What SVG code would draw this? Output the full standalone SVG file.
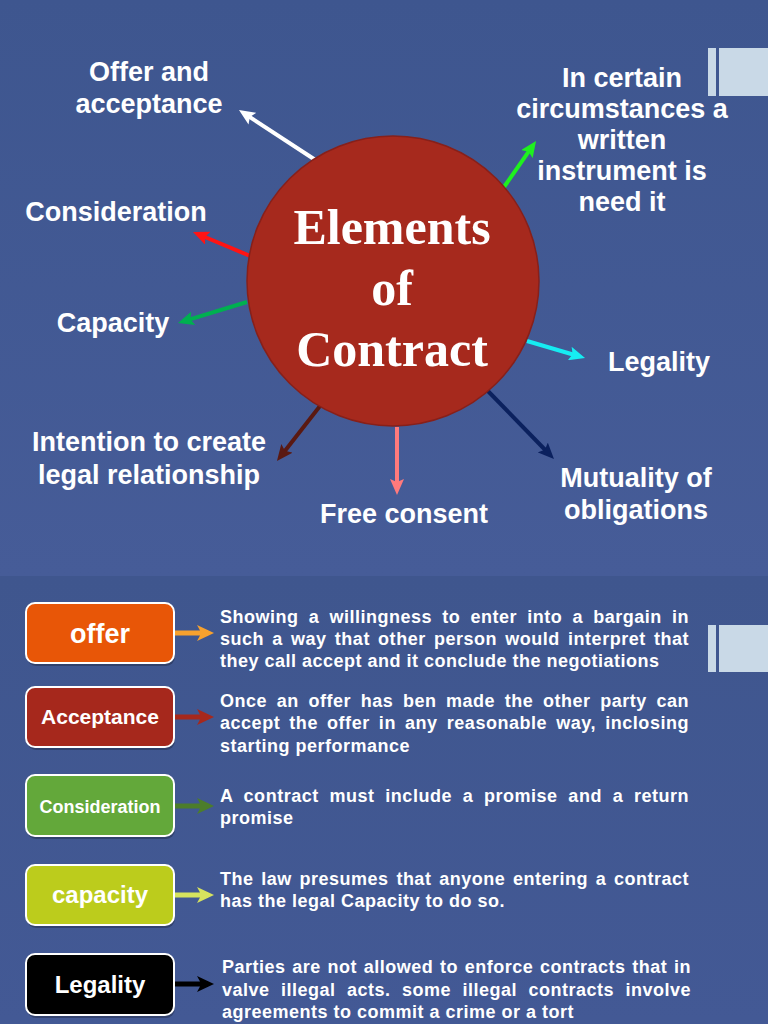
<svg xmlns="http://www.w3.org/2000/svg" width="768" height="1024" viewBox="0 0 768 1024">
<defs>
<linearGradient id="bg1" x1="0" y1="0" x2="0" y2="1"><stop offset="0" stop-color="#3e568f"/><stop offset="1" stop-color="#465c98"/></linearGradient>
<linearGradient id="bg2" x1="0" y1="0" x2="0" y2="1"><stop offset="0" stop-color="#3f568e"/><stop offset="1" stop-color="#435995"/></linearGradient>
<marker id="mWhite" viewBox="0 0 16 14" markerWidth="16" markerHeight="14" refX="7" refY="7" orient="auto" markerUnits="userSpaceOnUse"><path d="M0,0 L16,7 L0,14 L3,7 Z" fill="#ffffff"/></marker>
<marker id="mGreen" viewBox="0 0 16 14" markerWidth="16" markerHeight="14" refX="7" refY="7" orient="auto" markerUnits="userSpaceOnUse"><path d="M0,0 L16,7 L0,14 L3,7 Z" fill="#1ff01f"/></marker>
<marker id="mRed" viewBox="0 0 16 14" markerWidth="16" markerHeight="14" refX="7" refY="7" orient="auto" markerUnits="userSpaceOnUse"><path d="M0,0 L16,7 L0,14 L3,7 Z" fill="#ff1414"/></marker>
<marker id="mGreen2" viewBox="0 0 16 14" markerWidth="16" markerHeight="14" refX="7" refY="7" orient="auto" markerUnits="userSpaceOnUse"><path d="M0,0 L16,7 L0,14 L3,7 Z" fill="#00b050"/></marker>
<marker id="mCyan" viewBox="0 0 16 14" markerWidth="16" markerHeight="14" refX="7" refY="7" orient="auto" markerUnits="userSpaceOnUse"><path d="M0,0 L16,7 L0,14 L3,7 Z" fill="#16ecf2"/></marker>
<marker id="mBrown" viewBox="0 0 16 14" markerWidth="16" markerHeight="14" refX="7" refY="7" orient="auto" markerUnits="userSpaceOnUse"><path d="M0,0 L16,7 L0,14 L3,7 Z" fill="#5a1912"/></marker>
<marker id="mPink" viewBox="0 0 16 14" markerWidth="16" markerHeight="14" refX="7" refY="7" orient="auto" markerUnits="userSpaceOnUse"><path d="M0,0 L16,7 L0,14 L3,7 Z" fill="#ff7a7c"/></marker>
<marker id="mNavy" viewBox="0 0 16 14" markerWidth="16" markerHeight="14" refX="7" refY="7" orient="auto" markerUnits="userSpaceOnUse"><path d="M0,0 L16,7 L0,14 L3,7 Z" fill="#0b215e"/></marker>
<path id="blockArrow" d="M0,-2.5 L25,-2.5 L22,-8 L39,0 L22,8 L25,2.5 L0,2.5 Z"/>
</defs>
<style>
.lbl{font-family:"Liberation Sans",Arial,sans-serif;font-weight:bold;font-size:27px;fill:#ffffff;text-anchor:middle}
.title{font-family:"Liberation Serif","Times New Roman",serif;font-weight:bold;font-size:50px;fill:#ffffff;text-anchor:middle}
.con{stroke-width:4;fill:none}
.box{stroke:#ffffff;stroke-width:2}
.shadow{fill:#000000;opacity:0.25}
.blbl{font-family:"Liberation Sans",Arial,sans-serif;font-weight:bold;fill:#ffffff;text-anchor:middle}
.desc{font-family:"Liberation Sans",Arial,sans-serif;font-weight:bold;font-size:18px;fill:#ffffff;letter-spacing:0.5px}
.deco{fill:#c9d9e7}
</style>
<rect x="0" y="0" width="768" height="576" fill="url(#bg1)"/>
<rect x="0" y="576" width="768" height="448" fill="url(#bg2)"/>
<g id="decor">
<rect class="deco" x="708" y="48" width="8" height="48"/>
<rect class="deco" x="719" y="48" width="49" height="48"/>
<rect class="deco" x="708" y="625" width="8" height="47"/>
<rect class="deco" x="719" y="625" width="49" height="47"/>
</g>
<g id="connectors">
<line class="con" x1="320" y1="163" x2="246.5" y2="114.9" stroke="#ffffff" marker-end="url(#mWhite)"/>
<line class="con" x1="504" y1="187" x2="530.9" y2="148.4" stroke="#1ff01f" marker-end="url(#mGreen)"/>
<line class="con" x1="255" y1="258" x2="201.3" y2="235.5" stroke="#ff1414" marker-end="url(#mRed)"/>
<line class="con" x1="247" y1="302" x2="186.6" y2="320.4" stroke="#00b050" marker-end="url(#mGreen2)"/>
<line class="con" x1="527" y1="341" x2="576.4" y2="355.5" stroke="#16ecf2" marker-end="url(#mCyan)"/>
<line class="con" x1="320" y1="406" x2="282.5" y2="453.9" stroke="#5a1912" marker-end="url(#mBrown)"/>
<line class="con" x1="397" y1="427" x2="397" y2="486" stroke="#ff7a7c" marker-end="url(#mPink)"/>
<line class="con" x1="485" y1="388" x2="547.7" y2="452.5" stroke="#0b215e" marker-end="url(#mNavy)"/>
<use href="#blockArrow" x="175" y="633" fill="#f7a12e"/>
<use href="#blockArrow" x="175" y="717" fill="#a6281c"/>
<use href="#blockArrow" x="175" y="806" fill="#4c7d2b"/>
<use href="#blockArrow" x="175" y="895" fill="#d6e35e"/>
<use href="#blockArrow" x="175" y="984" fill="#000000"/>
</g>
<g id="center">
<ellipse cx="393" cy="281" rx="146" ry="145" fill="#a6291d" stroke="#87201a" stroke-width="1.5"/>
<text class="title" x="392" y="244">Elements</text>
<text class="title" x="392" y="305">of</text>
<text class="title" x="392" y="366">Contract</text>
</g>
<g id="n-offer-acceptance"><text class="lbl" x="149" y="81">Offer and</text><text class="lbl" x="149" y="113">acceptance</text></g>
<g id="n-written"><text class="lbl" x="622" y="87">In certain</text><text class="lbl" x="622" y="118">circumstances a</text><text class="lbl" x="622" y="149">written</text><text class="lbl" x="622" y="180">instrument is</text><text class="lbl" x="622" y="211">need it</text></g>
<g id="n-consideration"><text class="lbl" x="116" y="221">Consideration</text></g>
<g id="n-capacity"><text class="lbl" x="113" y="332">Capacity</text></g>
<g id="n-legality"><text class="lbl" x="659" y="371">Legality</text></g>
<g id="n-intention"><text class="lbl" x="149" y="451">Intention to create</text><text class="lbl" x="149" y="484">legal relationship</text></g>
<g id="n-free-consent"><text class="lbl" x="404" y="523">Free consent</text></g>
<g id="n-mutuality"><text class="lbl" x="636" y="487">Mutuality of</text><text class="lbl" x="636" y="519">obligations</text></g>
<g id="b-offer">
<rect class="shadow" x="27" y="606" width="148" height="60" rx="9"/>
<rect class="box" x="26" y="603" width="148" height="60" rx="9" fill="#e85607"/>
<text class="blbl" x="100" y="643" font-size="27">offer</text>
<text class="desc" x="220" y="623" word-spacing="4.7" textLength="469" lengthAdjust="spacing">Showing a willingness to enter into a bargain in</text>
<text class="desc" x="220" y="645" word-spacing="2.7" textLength="469" lengthAdjust="spacing">such a way that other person would interpret that</text>
<text class="desc" x="220" y="667">they call accept and it conclude the negotiations</text>
</g>
<g id="b-acceptance">
<rect class="shadow" x="27" y="690" width="148" height="60" rx="9"/>
<rect class="box" x="26" y="687" width="148" height="60" rx="9" fill="#a6281c"/>
<text class="blbl" x="100" y="724" font-size="21">Acceptance</text>
<text class="desc" x="220" y="707" word-spacing="4.2" textLength="469" lengthAdjust="spacing">Once an offer has ben made the other party can</text>
<text class="desc" x="220" y="729" word-spacing="3.6" textLength="469" lengthAdjust="spacing">accept the offer in any reasonable way, inclosing</text>
<text class="desc" x="220" y="752">starting performance</text>
</g>
<g id="b-consideration">
<rect class="shadow" x="27" y="778" width="148" height="61" rx="9"/>
<rect class="box" x="26" y="775" width="148" height="61" rx="9" fill="#63a83a"/>
<text class="blbl" x="100" y="813" font-size="18">Consideration</text>
<text class="desc" x="220" y="802" word-spacing="5.2" textLength="469" lengthAdjust="spacing">A contract must include a promise and a return</text>
<text class="desc" x="220" y="824">promise</text>
</g>
<g id="b-capacity">
<rect class="shadow" x="27" y="868" width="148" height="60" rx="9"/>
<rect class="box" x="26" y="865" width="148" height="60" rx="9" fill="#bccc1c"/>
<text class="blbl" x="100" y="903" font-size="24">capacity</text>
<text class="desc" x="220" y="885" word-spacing="2.3" textLength="469" lengthAdjust="spacing">The law presumes that anyone entering a contract</text>
<text class="desc" x="220" y="907">has the legal Capacity to do so.</text>
</g>
<g id="b-legality">
<rect class="shadow" x="27" y="957" width="148" height="61" rx="9"/>
<rect class="box" x="26" y="954" width="148" height="61" rx="9" fill="#000000"/>
<text class="blbl" x="100" y="993" font-size="24">Legality</text>
<text class="desc" x="222" y="973" word-spacing="1.3" textLength="469" lengthAdjust="spacing">Parties are not allowed to enforce contracts that in</text>
<text class="desc" x="222" y="996" word-spacing="6" textLength="469" lengthAdjust="spacing">valve illegal acts. some illegal contracts involve</text>
<text class="desc" x="222" y="1018">agreements to commit a crime or a tort</text>
</g>
</svg>
